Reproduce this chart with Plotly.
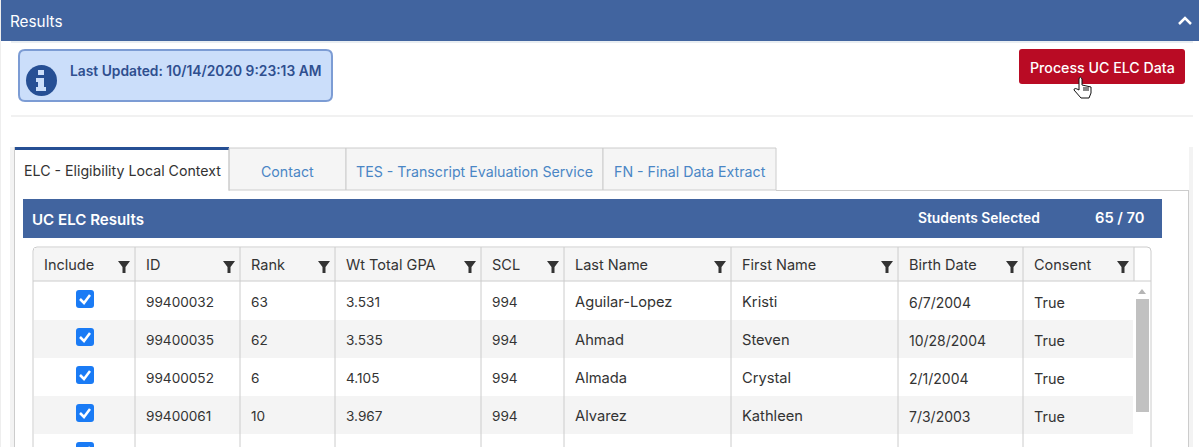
import plotly.graph_objects as go

# table contents
columns = ["Include", "ID", "Rank", "Wt Total GPA", "SCL", "Last Name", "First Name", "Birth Date", "Consent"]
include = [True, True, True, True, True]
ids = ["99400032", "99400035", "99400052", "99400061"]
ranks = ["63", "62", "6", "10"]
gpas = ["3.531", "3.535", "4.105", "3.967"]
scls = ["994", "994", "994", "994"]
last_names = ["Aguilar-Lopez", "Ahmad", "Almada", "Alvarez"]
first_names = ["Kristi", "Steven", "Crystal", "Kathleen"]
birth_dates = ["6/7/2004", "10/28/2004", "2/1/2004", "7/3/2003"]
consents = ["True", "True", "True", "True"]
tabs = ["ELC - Eligibility Local Context", "Contact", "TES - Transcript Evaluation Service", "FN - Final Data Extract"]

# page geometry in screen pixels
W, H = 1199, 447
col_edges = [33, 135, 240, 335, 481, 564, 731, 898, 1023, 1134]
tab_edges = [15, 229, 346, 603, 776]
row_top = 282
row_h = 38
FONT = "Inter"
BLUE = "#41649f"
DARK = "#264f94"
GRID = "#cccccc"

shapes = []
notes = []


def rect(x0, y0, x1, y1, fill, line=None, width=1):
    shapes.append(dict(type="rect", x0=x0, y0=y0, x1=x1, y1=y1, fillcolor=fill,
                       line=dict(color=line or fill, width=width if line else 0)))


def rrect(x0, y0, x1, y1, r, fill, line=None, width=1):
    p = (f"M{x0+r},{y0} L{x1-r},{y0} Q{x1},{y0} {x1},{y0+r} L{x1},{y1-r} Q{x1},{y1} {x1-r},{y1} "
         f"L{x0+r},{y1} Q{x0},{y1} {x0},{y1-r} L{x0},{y0+r} Q{x0},{y0} {x0+r},{y0} Z")
    shapes.append(dict(type="path", path=p, fillcolor=fill,
                       line=dict(color=line or fill, width=width if line else 0)))


def hline(x0, x1, y, color=GRID, width=1):
    shapes.append(dict(type="line", x0=x0, x1=x1, y0=y, y1=y, line=dict(color=color, width=width)))


def vline(x, y0, y1, color=GRID, width=1):
    shapes.append(dict(type="line", x0=x, x1=x, y0=y0, y1=y1, line=dict(color=color, width=width)))


def label(x, y, text, size=14.5, color="#333333", anchor="left", weight=400):
    notes.append(dict(x=x, y=y, text=text, showarrow=False, xanchor=anchor, yanchor="middle",
                      borderpad=0, font=dict(family=FONT, size=size, color=color, weight=weight)))


# top bar
rect(1, 0, W, 41, BLUE)
rect(0, 0, 1, H, "#eeeeee")
rect(11, 41, 1193, 43, "#e9eef2")
label(9, 21, "Results", 15.3, "white")
shapes.append(dict(type="path", path="M1179,24 L1185,18 L1191,24", line=dict(color="white", width=2.5)))

# info box
rrect(19, 50, 332, 101, 6, "#cbdefa", "#7c9cd4", 2)
shapes.append(dict(type="circle", x0=26, x1=57, y0=65, y1=96, fillcolor=DARK, line=dict(width=0)))
rect(38, 70, 44, 75, "#cbdefa")
shapes.append(dict(type="path", path="M36,78 L44,78 L44,87 L46,87 L46,91 L36,91 L36,87 L38,87 L38,82 L36,82 Z",
                   fillcolor="#cbdefa", line=dict(width=0)))
label(69, 71, "Last Updated: 10/14/2020 9:23:13 AM", 13.8, "#2f4f8f", weight=600)

# button and pointer
rrect(1019, 49, 1185, 84, 3, "#b90b24")
label(1102, 67, "Process UC ELC Data", 14.2, "white", "center", 500)
shapes.append(dict(type="path",
                   path="M1079,79 Q1080,75 1082,79 L1082,85 L1091,87 L1091,93 L1089,98 L1081,98 L1074,90 Q1074,87 1079,90 Z",
                   fillcolor="white", line=dict(color="#111111", width=1)))
for kx in [1084, 1086, 1088]:
    vline(kx, 87, 91, "#111111")

hline(11, 1193, 116, "#e3e3e3")

# panel outline and tabs
rect(10, 147, 14, H, "#f3f3f3")
rect(1189, 147, 1193, H, "#f3f3f3")
vline(14.5, 147, H)
vline(1188.5, 190, H)
hline(776, 1188, 190.5)
for i in range(1, len(tabs)):
    rect(tab_edges[i], 148, tab_edges[i + 1], 190, "#f5f5f5", GRID)
    label((tab_edges[i] + tab_edges[i + 1]) / 2, 171, tabs[i], 14.2, "#4a86c5", "center")
rect(tab_edges[0], 147, tab_edges[1], 150, DARK)
vline(229, 148, 191)
label(23, 171, tabs[0], 14.2, "#333333")

# results band
rect(23, 199, 1162, 238, BLUE)
label(31, 219, "UC ELC Results", 15.1, "white", weight=600)
label(917, 218, "Students Selected", 13.8, "white", weight=600)
label(1094, 218, "65 / 70", 14.7, "white", weight=600)

# table frame, header, stripes
rrect(33, 247, 1151, H + 20, 4, "white", GRID)
rect(col_edges[0] + 1, 248, col_edges[-1], 281, "#f5f5f5")
hline(33, 1151, 281)
for r in range(len(include)):
    if r % 2 == 1:
        rect(34, row_top + r * row_h, 1133, row_top + (r + 1) * row_h, "#f4f4f4")
for e in col_edges[1:]:
    vline(e, 247, H if e < 1134 else 281)

# header labels and filter funnels
for c, name in enumerate(columns):
    label(col_edges[c] + 10, 264, name, 14.5)
    fx = col_edges[c + 1] - 11
    shapes.append(dict(type="path", path=f"M{fx-6},261 L{fx+6},261 L{fx+1.5},267 L{fx+1.5},273 L{fx-1.5},273 L{fx-1.5},267 Z",
                       fillcolor="#333333", line=dict(width=0)))

# cell text, letters run wider than digits in the original font
cols_text = [ids, ranks, gpas, scls, last_names, first_names, birth_dates, consents]
col_sizes = [13.6, 13.6, 13.6, 13.6, 14.7, 14.7, 14, 14.4]
for c, values in enumerate(cols_text):
    for r, v in enumerate(values):
        label(col_edges[c + 1] + 10, row_top + r * row_h + 20, v, col_sizes[c])

# checkboxes
for r, checked in enumerate(include):
    y0 = row_top + r * row_h + 8
    rrect(76, y0, 94, y0 + 18, 3, "#1a7bf5")
    if checked:
        shapes.append(dict(type="path", path=f"M80,{y0+9} L84,{y0+13} L90,{y0+5}",
                           line=dict(color="white", width=2.5)))

# scrollbar
rect(1136, 299, 1149, 412, "#c1c1c1")
shapes.append(dict(type="path", path="M1138,294 L1146,294 L1142,289 Z", fillcolor="#b5b5b5", line=dict(width=0)))

fig = go.Figure()
fig.update_layout(
    width=W, height=H, margin=dict(l=0, r=0, t=0, b=0),
    paper_bgcolor="white", plot_bgcolor="white", showlegend=False,
    xaxis=dict(range=[0, W], visible=False, fixedrange=True),
    yaxis=dict(range=[H, 0], visible=False, fixedrange=True),
    shapes=shapes, annotations=notes,
)
fig.write_html("out.html", config=dict(displayModeBar=False),
               post_script="document.body.style.margin='0';document.body.style.overflow='hidden';")
